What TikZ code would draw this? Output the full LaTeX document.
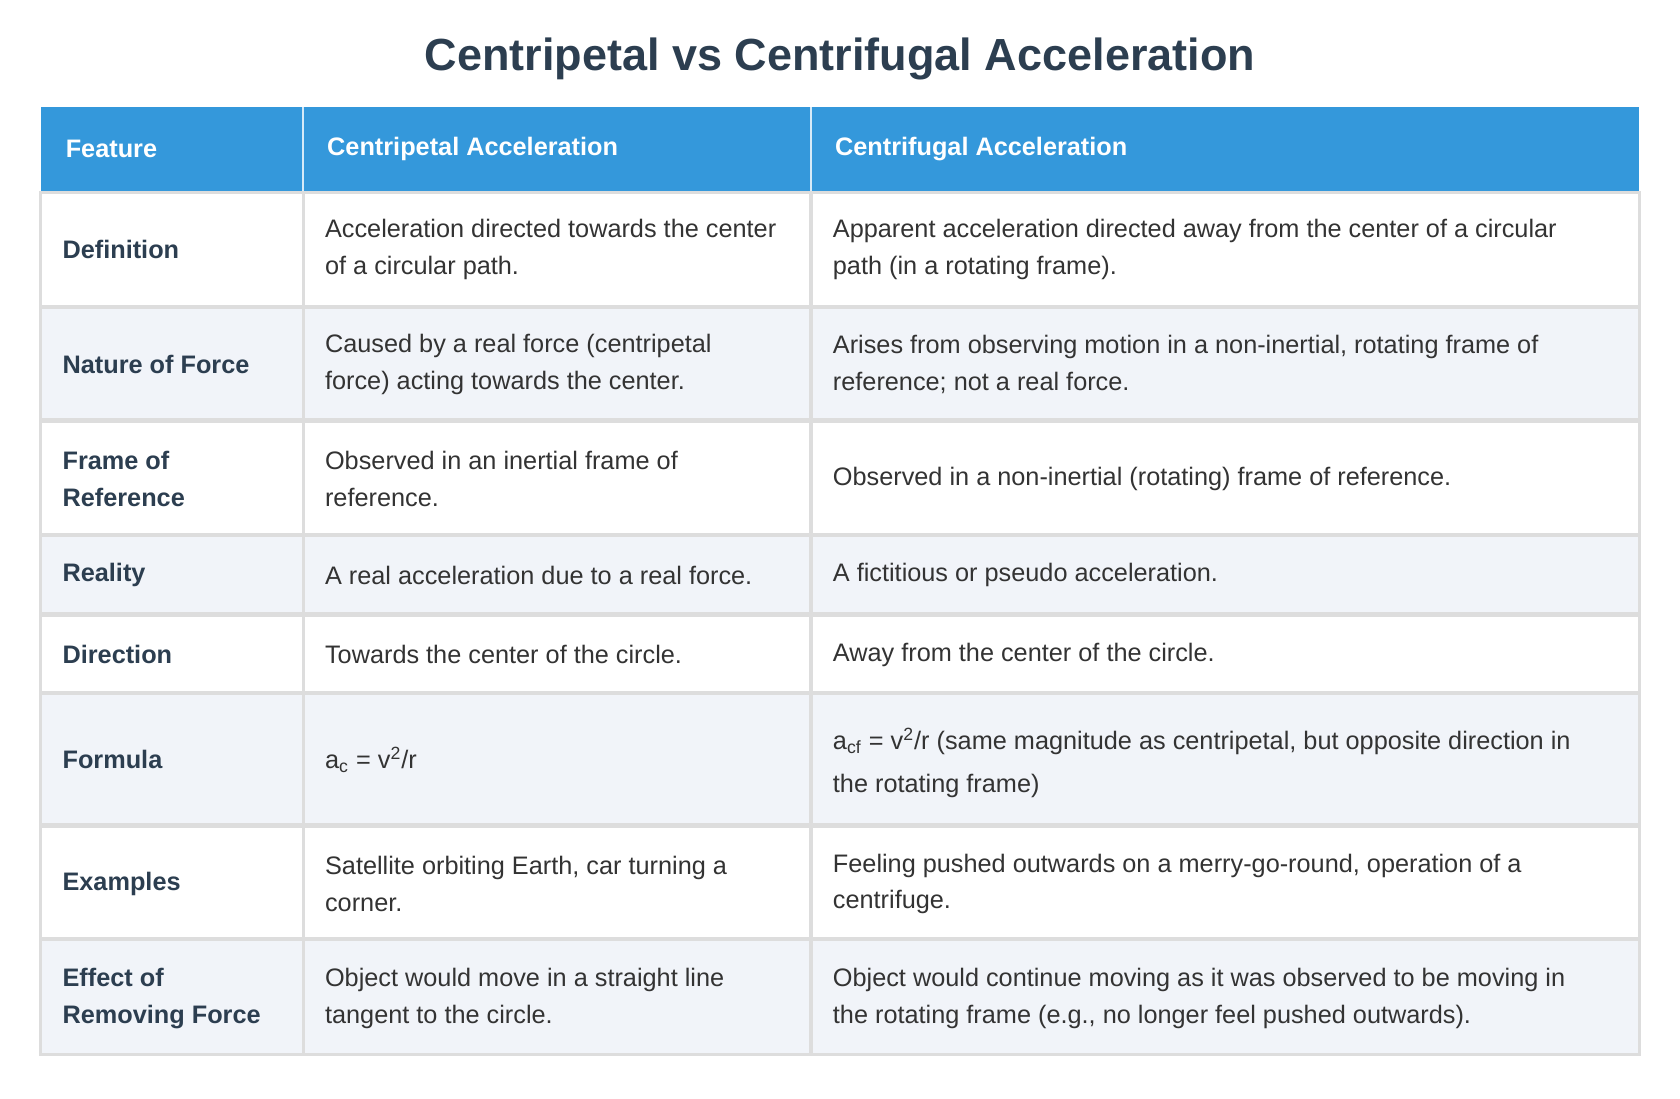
\documentclass[tikz,border=0pt]{standalone}
\usepackage{fontspec}
\setmainfont{Liberation Sans}
\usetikzlibrary{positioning}
\definecolor{headblue}{HTML}{3498DB}
\definecolor{titlecol}{HTML}{2C3E50}
\definecolor{bodycol}{HTML}{333333}
\definecolor{rowalt}{HTML}{F1F4F9}
\definecolor{gridcol}{HTML}{DDDDDD}
\tikzset{
  cell/.style={anchor=west, align=left, font=\fontsize{11.8}{17}\selectfont, text=bodycol, inner sep=0pt},
  feat/.style={cell, font=\fontsize{11.8}{17}\selectfont\bfseries, text=titlecol},
  head/.style={cell, font=\fontsize{11.8}{17}\selectfont\bfseries, text=white},
}
\begin{document}
\begin{tikzpicture}[x=0.5pt,y=-0.5pt]
  \useasboundingbox[fill=white] (0,0) rectangle (1568,1025);
  \node[font=\fontsize{21}{26}\selectfont\bfseries, text=titlecol] (title) at (784,55) {Centripetal vs Centrifugal Acceleration};
  % header
  \fill[headblue] (38,100) rectangle (1530,179);
  \draw[white!80!headblue, line width=1pt] (283,100) -- (283,179) (757,100) -- (757,179);
  \node[head] (h1) at (61,139) {Feature};
  \node[head] (h2) at (305,139) {Centripetal Acceleration};
  \node[head] (h3) at (779,139) {Centrifugal Acceleration};
  % rows
  \foreach \top/\bot/\bg [count=\i] in {180/286/white, 287/392/rowalt, 393/499/white, 500/573/rowalt,
      574/646/white, 647/770/rowalt, 771/876/white, 877/984/rowalt} {
    \fill[\bg] (38,\top) rectangle (1530,\bot);
    \draw[gridcol, line width=1.5pt] (38,\top) rectangle (1530,\bot);
    \draw[gridcol, line width=1.5pt] (283,\top) -- (283,\bot) (757,\top) -- (757,\bot);
  }
  \node[feat] (f1) at (58,233) {Definition};
  \node[cell] (a1) at (303,233) {Acceleration directed towards the center\\of a circular path.};
  \node[cell] (b1) at (777,233) {Apparent acceleration directed away from the center of a circular\\path (in a rotating frame).};
  \node[feat] (f2) at (58,340) {Nature of Force};
  \node[cell] (a2) at (303,340) {Caused by a real force (centripetal\\force) acting towards the center.};
  \node[cell] (b2) at (777,340) {Arises from observing motion in a non-inertial, rotating frame of\\reference; not a real force.};
  \node[feat] (f3) at (58,447) {Frame of\\Reference};
  \node[cell] (a3) at (303,447) {Observed in an inertial frame of\\reference.};
  \node[cell] (b3) at (777,447) {Observed in a non-inertial (rotating) frame of reference.};
  \node[feat] (f4) at (58,537) {Reality};
  \node[cell] (a4) at (303,537) {A real acceleration due to a real force.};
  \node[cell] (b4) at (777,537) {A fictitious or pseudo acceleration.};
  \node[feat] (f5) at (58,611) {Direction};
  \node[cell] (a5) at (303,611) {Towards the center of the circle.};
  \node[cell] (b5) at (777,611) {Away from the center of the circle.};
  \node[feat] (f6) at (58,709) {Formula};
  \node[cell] (a6) at (303,709) {a\textsubscript{c} = v\textsuperscript{2}/r};
  \node[cell, font=\fontsize{11.8}{20}\selectfont] (b6) at (777,712) {a\textsubscript{cf} = v\textsuperscript{2}/r (same magnitude as centripetal, but opposite direction in\\the rotating frame)};
  \node[feat] (f7) at (58,825) {Examples};
  \node[cell] (a7) at (303,825) {Satellite orbiting Earth, car turning a\\corner.};
  \node[cell] (b7) at (777,825) {Feeling pushed outwards on a merry-go-round, operation of a\\centrifuge.};
  \node[feat] (f8) at (58,932) {Effect of\\Removing Force};
  \node[cell] (a8) at (303,932) {Object would move in a straight line\\tangent to the circle.};
  \node[cell] (b8) at (777,932) {Object would continue moving as it was observed to be moving in\\the rotating frame (e.g., no longer feel pushed outwards).};
\end{tikzpicture}
\end{document}
